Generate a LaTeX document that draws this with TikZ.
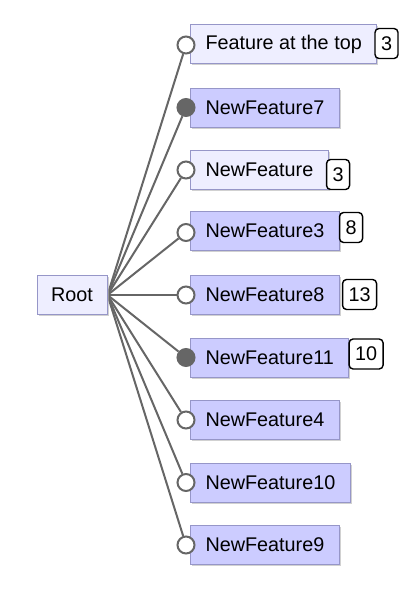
\documentclass[tikz,border=0pt]{standalone}
\usepackage{fontspec}
\setmainfont{Liberation Sans}
\usepackage{tikz}
\usetikzlibrary{positioning, backgrounds, shadows}

\definecolor{lightfeat}{RGB}{238,238,255}
\definecolor{darkfeat}{RGB}{204,204,255}
\definecolor{featborder}{RGB}{150,150,200}
\definecolor{linkgray}{RGB}{102,102,102}

\begin{document}
\begin{tikzpicture}[x=1pt, y=-1pt, node distance=0pt,
  every node/.style={font=\fontsize{19.8}{24}\selectfont},
  feat node/.style={rectangle, draw=featborder, line width=1pt, minimum height=39pt,
    inner xsep=15pt, inner ysep=0pt,
    drop shadow={shadow xshift=1.5pt, shadow yshift=-1.5pt, fill=black!30, opacity=0.6}},
  light/.style={feat node, fill=lightfeat},
  dark/.style={feat node, fill=darkfeat},
  open end/.style={circle, draw=linkgray, line width=2pt, fill=white, minimum size=17pt, inner sep=0pt},
  full end/.style={open end, fill=linkgray},
  count box/.style={rectangle, rounded corners=4pt, draw=black, line width=1.4pt, fill=white,
    minimum height=30pt, inner xsep=6pt, inner ysep=0pt}]

\useasboundingbox (0,0) rectangle (411,605);

% root
\node[light, minimum width=70pt, inner xsep=0pt] (root) at (72,295) {Root};

% ends of the links
\node[open end] (c1) at (186,45) {};
\node[full end] (c2) at (186,107.5) {};
\node[open end] (c3) at (186,170) {};
\node[open end] (c4) at (186,232.5) {};
\node[open end] (c5) at (186,295) {};
\node[full end] (c6) at (186,357.5) {};
\node[open end] (c7) at (186,420) {};
\node[open end] (c8) at (186,482.5) {};
\node[open end] (c9) at (186,545) {};

% features
\begin{scope}[on background layer]
\node[light] (top) [right=-5.5pt of c1, yshift=1pt] {Feature at the top};
\node[dark]  (nf7) [right=-5.5pt of c2] {NewFeature7};
\node[light] (nf)  [right=-5.5pt of c3] {NewFeature};
\node[dark]  (nf3) [right=-5.5pt of c4, yshift=2pt] {NewFeature3};
\node[dark]  (nf8) [right=-5.5pt of c5] {NewFeature8};
\node[dark]  (nf11) [right=-5.5pt of c6] {NewFeature11};
\node[dark]  (nf4) [right=-5.5pt of c7] {NewFeature4};
\node[dark]  (nf10) [right=-5.5pt of c8] {NewFeature10};
\node[dark]  (nf9) [right=-5.5pt of c9] {NewFeature9};
\end{scope}

% counts
\node[count box] (n1) [right=-3pt of top, yshift=0.5pt] {3};
\node[count box] (n3) [right=-3pt of nf, yshift=-4.5pt] {3};
\node[count box] (n4) [right=-1pt of nf3, yshift=3pt] {8};
\node[count box] (n5) [right=2pt of nf8, yshift=0.5pt] {13};
\node[count box] (n6) [right=-1pt of nf11, yshift=3.5pt] {10};

\begin{scope}[on background layer]
\path[draw=linkgray, line width=2pt]
(root.east) edge (c1)
(root.east) edge (c2)
(root.east) edge (c3)
(root.east) edge (c4)
(root.east) edge (c5)
(root.east) edge (c6)
(root.east) edge (c7)
(root.east) edge (c8)
(root.east) edge (c9)
;
\end{scope}

\end{tikzpicture}
\end{document}
